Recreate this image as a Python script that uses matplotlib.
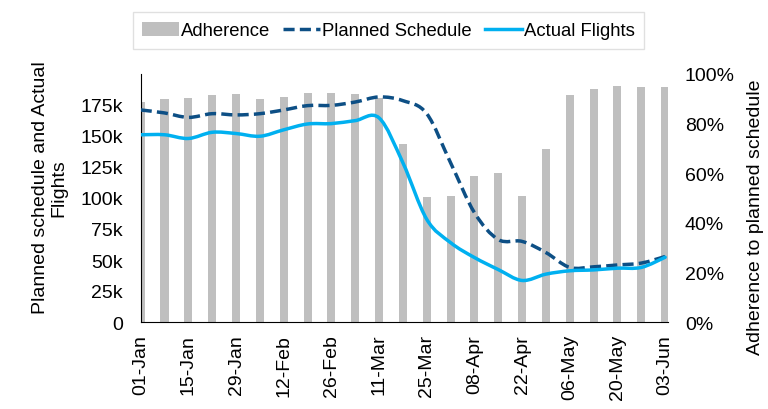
import matplotlib
matplotlib.use("Agg")
import matplotlib.pyplot as plt
from matplotlib.path import Path
from matplotlib.patches import PathPatch, Patch
from matplotlib.lines import Line2D

# ---------------- data ----------------
week_labels = ["01-Jan", "08-Jan", "15-Jan", "22-Jan", "29-Jan", "05-Feb", "12-Feb", "19-Feb",
               "26-Feb", "04-Mar", "11-Mar", "18-Mar", "25-Mar", "01-Apr", "08-Apr", "15-Apr",
               "22-Apr", "29-Apr", "06-May", "13-May", "20-May", "27-May", "03-Jun"]
adherence = [88.8, 89.9, 90.3, 91.5, 91.8, 89.9, 90.7, 92.2, 92.2, 91.9, 90.3, 71.8,
             50.5, 50.9, 59.0, 60.0, 50.9, 69.8, 91.5, 94.0, 95.3, 94.6, 94.9]
planned = [171000, 168600, 165000, 168000, 167000, 168000, 171000, 174500, 174700, 177400,
           181500, 178500, 168000, 128400, 88200, 66500, 65000, 56000, 44000, 44500,
           46000, 47500, 52800]
actual = [151000, 151000, 148000, 153000, 152000, 149800, 155000, 159700, 160000, 162400,
          164600, 128400, 82800, 64000, 52000, 42300, 33500, 38600, 41300, 42000,
          43400, 44000, 52200]
left_ticks = [0, 25000, 50000, 75000, 100000, 125000, 150000, 175000]
left_tick_labels = ["0", "25k", "50k", "75k", "100k", "125k", "150k", "175k"]
right_ticks = [0, 20, 40, 60, 80, 100]
right_tick_labels = ["0%", "20%", "40%", "60%", "80%", "100%"]

# ---------------- style ----------------
FONT = "Liberation Sans"
plt.rcParams["font.family"] = [FONT, "DejaVu Sans"]
BAR_C = "#BFBFBF"
PLAN_C = "#0D4F85"
ACT_C = "#00B0F0"
LW = 2.5
XMIN, XMAX = 0, 22.1

W, H = 768, 410
fig = plt.figure(figsize=(W / 100, H / 100), dpi=100)
ax_l, ax_r, ax_b, ax_t = 140.7, 667.5, 323, 75
rect = [ax_l / W, 1 - ax_b / H, (ax_r - ax_l) / W, (ax_b - ax_t) / H]
ax2 = fig.add_axes(rect)              # bars, right scale (behind)
ax = fig.add_axes(rect, sharex=ax2)   # lines, left scale (on top)
x = list(range(len(week_labels)))

ax2.bar(x, adherence, width=0.34, color=BAR_C, zorder=1)
ax2.set_xlim(XMIN, XMAX)
ax2.set_ylim(0, 100)
ax2.yaxis.tick_right()
ax2.set_yticks(right_ticks)
ax2.set_yticklabels(right_tick_labels)
ax2.tick_params(axis="x", which="both", bottom=False, labelbottom=False)


def smooth_path(xs, ys):
    """Smoothed (Catmull-Rom style) Bezier path through the data points."""
    n = len(xs)
    verts = [(xs[0], ys[0])]
    codes = [Path.MOVETO]
    for i in range(n - 1):
        p0 = i - 1 if i > 0 else i
        p3 = i + 2 if i + 2 < n else i + 1
        c1 = (xs[i] + (xs[i + 1] - xs[p0]) / 6.0, ys[i] + (ys[i + 1] - ys[p0]) / 6.0)
        c2 = (xs[i + 1] - (xs[p3] - xs[i]) / 6.0, ys[i + 1] - (ys[p3] - ys[i]) / 6.0)
        verts += [c1, c2, (xs[i + 1], ys[i + 1])]
        codes += [Path.CURVE4] * 3
    return Path(verts, codes)


pp = PathPatch(smooth_path(x, planned), fill=False, edgecolor=PLAN_C, lw=LW,
               linestyle=(0, (3.2, 1.5)), capstyle="butt", zorder=3)
pa = PathPatch(smooth_path(x, actual), fill=False, edgecolor=ACT_C, lw=LW,
               capstyle="round", joinstyle="round", zorder=4)
ax.add_patch(pp)
ax.add_patch(pa)
ax.patch.set_visible(False)

ax.set_xlim(XMIN, XMAX)
ax.set_ylim(0, 200000)
ax.set_yticks(left_ticks)
ax.set_yticklabels(left_tick_labels)
ax.set_xticks(x[::2])
ax.set_xticklabels(week_labels[::2], rotation=90)

for a in (ax, ax2):
    for s in a.spines.values():
        s.set_visible(False)
ax.spines["left"].set_visible(True)
ax.spines["bottom"].set_visible(True)
ax.spines["left"].set_color("black")
ax.spines["bottom"].set_color("black")

ax.tick_params(axis="y", length=0, pad=13, labelsize=14)
ax.tick_params(axis="x", length=0, pad=8.5, labelsize=14)
ax2.tick_params(axis="y", length=0, pad=12.5, labelsize=14)

# axis titles
fig.text(50 / W, 1 - 188 / H, "Planned schedule and Actual\nFlights", rotation=90,
         ha="center", va="center", multialignment="center", fontsize=14, linespacing=1.12)
fig.text(755 / W, 1 - 217 / H, "Adherence to planned schedule", rotation=90,
         ha="center", va="center", fontsize=14)

# legend
handles = [Patch(facecolor=BAR_C, edgecolor="none"),
           Line2D([], [], color=PLAN_C, lw=LW, linestyle=(0, (3.2, 1.5))),
           Line2D([], [], color=ACT_C, lw=LW)]
labels = ["Adherence", "Planned Schedule", "Actual Flights"]
leg = fig.legend(handles, labels, loc="center", bbox_to_anchor=(388.5 / W, 1 - 31.5 / H),
                 ncol=3, fontsize=13.3, frameon=True, fancybox=False, handlelength=2.0,
                 handleheight=0.85, handletextpad=0.1, columnspacing=0.72, borderpad=0.5)
leg.get_frame().set_edgecolor("#D9D9D9")

fig.savefig("out.png", dpi=100)
